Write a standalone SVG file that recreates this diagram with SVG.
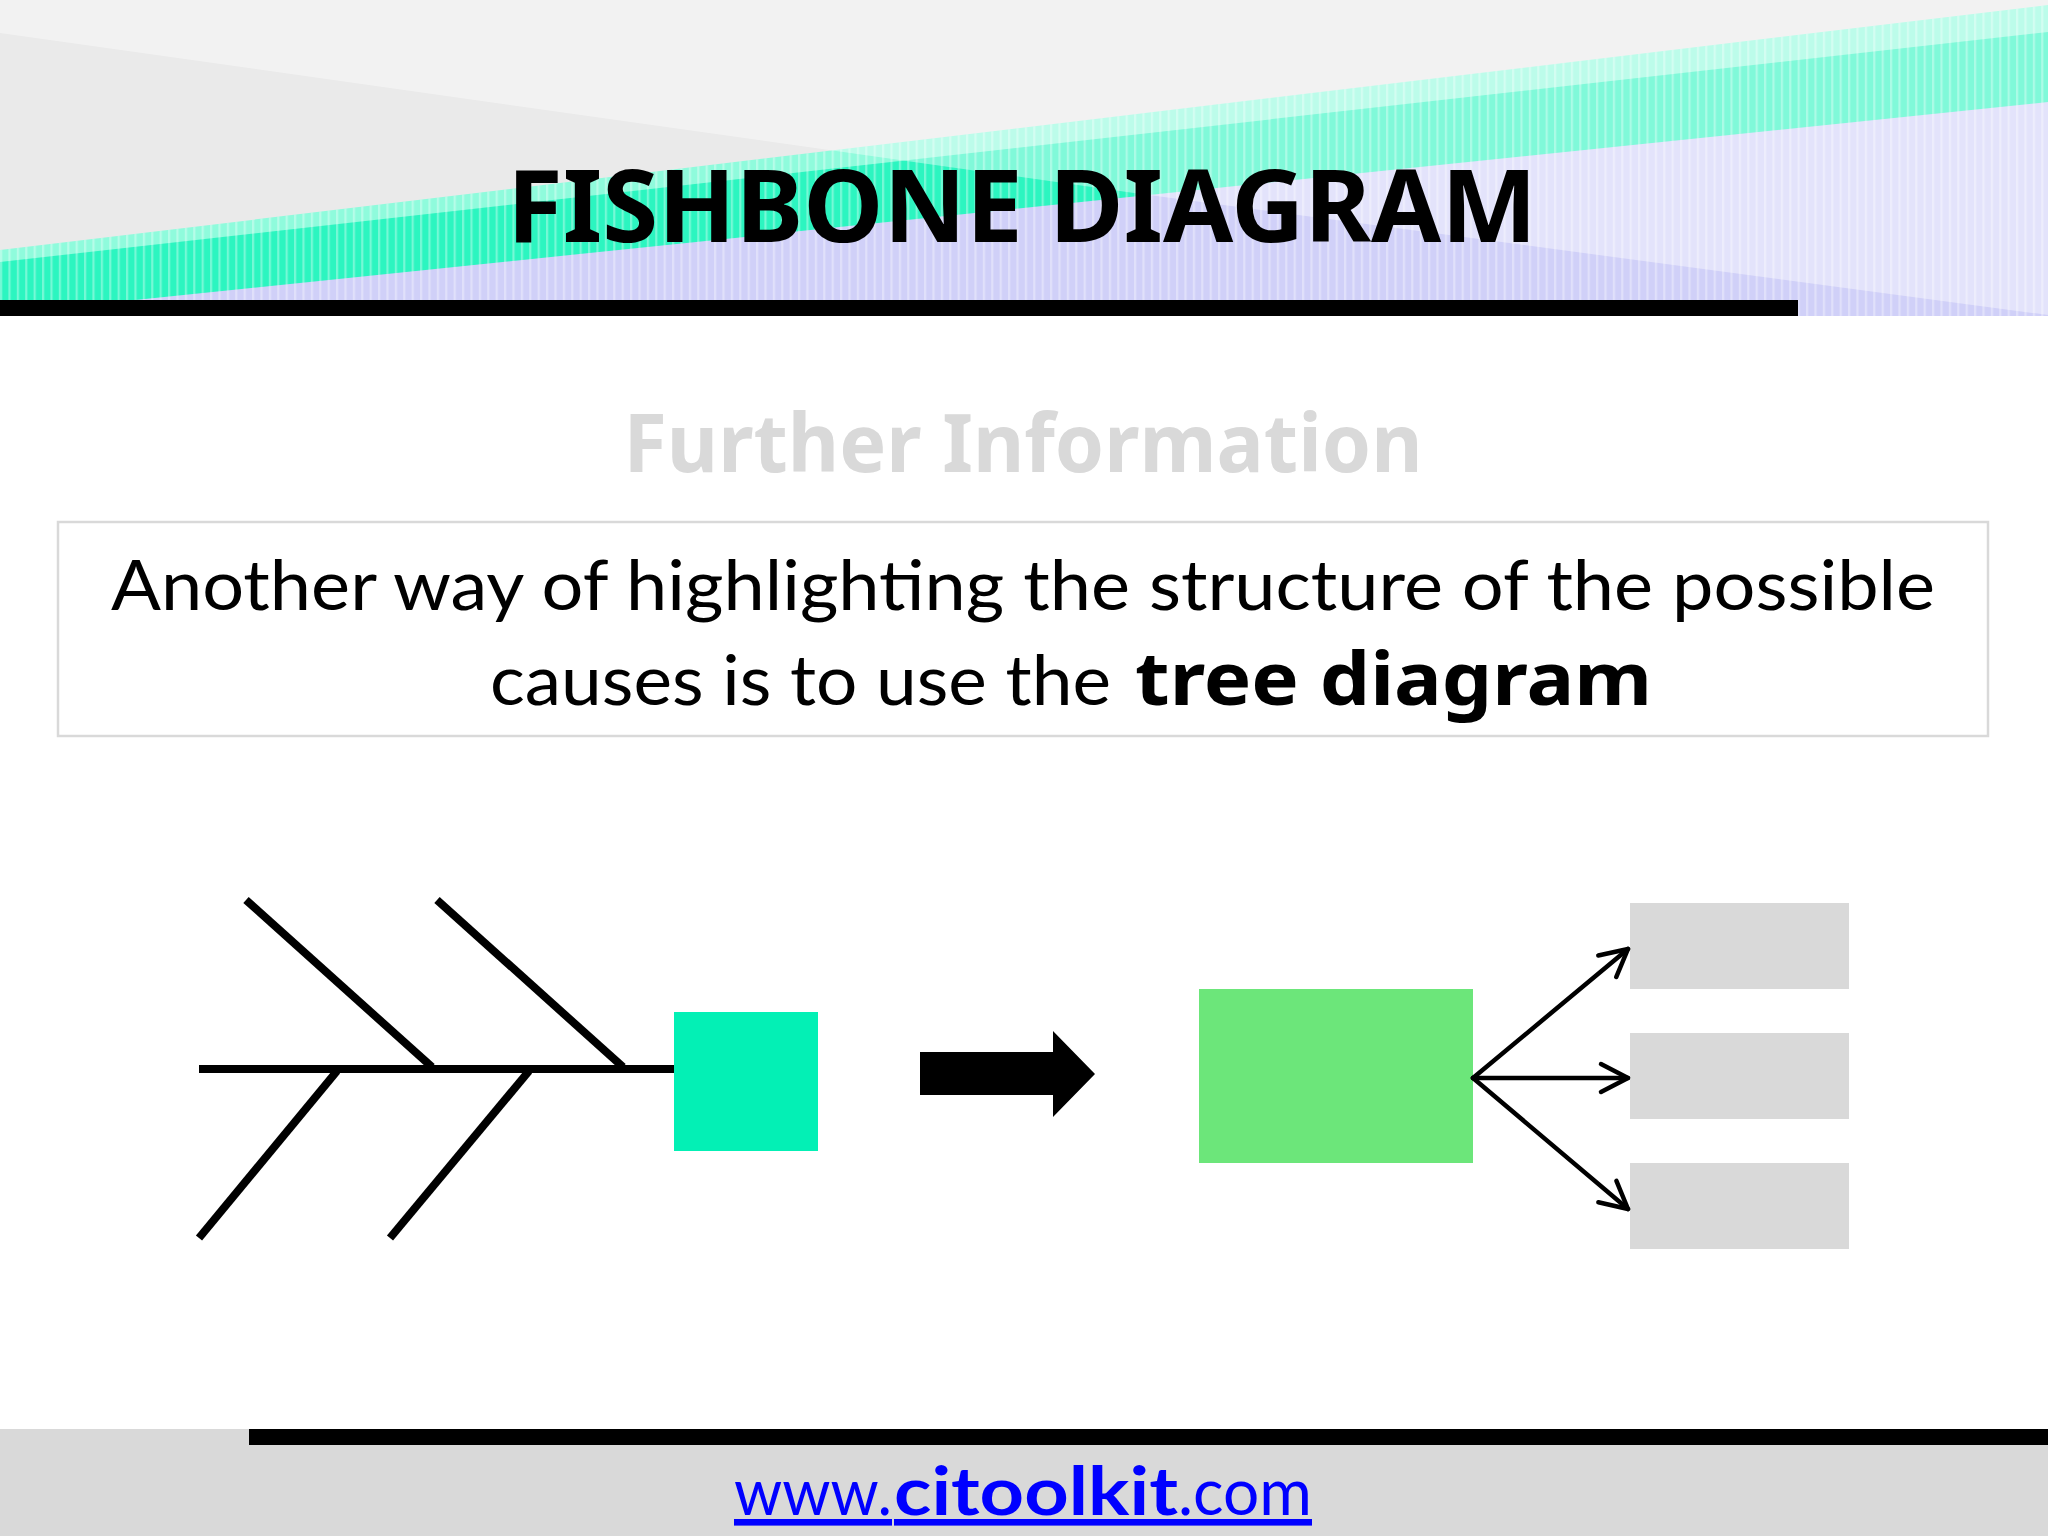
<svg xmlns="http://www.w3.org/2000/svg" width="2048" height="1536" viewBox="0 0 2048 1536">
<style>
.bone{stroke:#000;stroke-width:8;fill:none;stroke-linecap:butt}
.conn{stroke:#000;stroke-width:4.5;fill:none;stroke-linecap:round}
.leaf{fill:#d9d9d9}
.sans{font-family:"Noto Sans","Open Sans","DejaVu Sans",sans-serif}
.body{font-family:Lato,"Liberation Sans",sans-serif}
</style>
<defs>
<pattern id="stripes" width="8.4" height="20" patternUnits="userSpaceOnUse">
<rect x="0" y="0" width="2.2" height="20" fill="#ffffff" opacity="0.35"/>
</pattern>
<marker id="ah" markerUnits="userSpaceOnUse" markerWidth="40" markerHeight="40" viewBox="-35 -20 40 40" refX="0" refY="0" orient="auto">
<path d="M-27,-14 L0,0 L-27,14" fill="none" stroke="#000" stroke-width="4.5" stroke-linecap="round" stroke-linejoin="round"/>
</marker>
</defs>
<rect width="2048" height="1536" fill="#ffffff"/>
<g id="header">
<rect x="0" y="0" width="2048" height="316" fill="#eaeaea"/>
<polygon points="0,250 2048,5 2048,316 0,316" fill="#8ffbdc"/>
<polygon points="0,262 2048,32 2048,316 0,316" fill="#2cf5c0"/>
<polygon points="0,314 2048,102 2048,316 0,316" fill="#d0d0f8"/>
<polygon points="0,0 2048,0 2048,315 1134,193 0,33" fill="#ffffff" opacity="0.4"/>
<polygon points="0,250 2048,5 2048,316 0,316" fill="url(#stripes)"/>
<rect x="0" y="300" width="1798" height="16" fill="#000"/>
<text x="1022" y="242" text-anchor="middle" class="sans" font-weight="bold" font-size="101" textLength="1030" lengthAdjust="spacingAndGlyphs" fill="#000">FISHBONE DIAGRAM</text>
</g>
<g id="subtitle">
<text x="1023" y="472" text-anchor="middle" class="sans" font-weight="bold" font-size="80" textLength="799" lengthAdjust="spacingAndGlyphs" fill="#d9d9d9">Further Information</text>
</g>
<g id="textbox">
<rect x="58" y="522" width="1930" height="214" fill="#ffffff" stroke="#d9d9d9" stroke-width="2.5"/>
<text x="111" y="610" class="body" font-size="70" textLength="1824" lengthAdjust="spacingAndGlyphs" fill="#000">Another way of highlighting the structure of the possible</text>
<text y="705" font-size="70" fill="#000"><tspan x="490" class="body" textLength="621" lengthAdjust="spacingAndGlyphs">causes is to use the</tspan><tspan x="1135" class="sans" font-weight="bold" font-size="74" textLength="517" lengthAdjust="spacingAndGlyphs">tree diagram</tspan></text>
</g>
<g id="fishbone">
<line class="bone" x1="199" y1="1069" x2="675" y2="1069"/>
<line class="bone" x1="246" y1="900" x2="432" y2="1067"/>
<line class="bone" x1="437" y1="900" x2="623" y2="1067"/>
<line class="bone" x1="337" y1="1071" x2="199" y2="1238"/>
<line class="bone" x1="529" y1="1071" x2="390" y2="1238"/>
</g>
<g id="effect-head">
<rect x="674" y="1012" width="144" height="139" fill="#03f0b5"/>
</g>
<g id="block-arrow">
<polygon points="920,1052 1053,1052 1053,1031 1095,1074 1053,1117 1053,1095 920,1095" fill="#000"/>
</g>
<g id="tree-root">
<rect x="1199" y="989" width="274" height="174" fill="#6ce67a"/>
</g>
<g id="leaf-1"><rect class="leaf" x="1630" y="903" width="219" height="86"/></g>
<g id="leaf-2"><rect class="leaf" x="1630" y="1033" width="219" height="86"/></g>
<g id="leaf-3"><rect class="leaf" x="1630" y="1163" width="219" height="86"/></g>
<g id="connectors">
<line class="conn" x1="1473" y1="1078" x2="1628" y2="949" marker-end="url(#ah)"/>
<line class="conn" x1="1473" y1="1078" x2="1628" y2="1078" marker-end="url(#ah)"/>
<line class="conn" x1="1473" y1="1078" x2="1628" y2="1209" marker-end="url(#ah)"/>
</g>
<g id="footer">
<rect x="0" y="1429" width="2048" height="107" fill="#d9d9d9"/>
<rect x="249" y="1429" width="1799" height="16" fill="#000"/>
<text y="1515" font-size="66" fill="#0000ff" text-decoration="underline" class="body"><tspan x="734" textLength="158" lengthAdjust="spacingAndGlyphs">www.</tspan><tspan x="894" font-weight="bold" textLength="284" lengthAdjust="spacingAndGlyphs">citoolkit</tspan><tspan x="1178" textLength="134" lengthAdjust="spacingAndGlyphs">.com</tspan></text>
</g>
</svg>
